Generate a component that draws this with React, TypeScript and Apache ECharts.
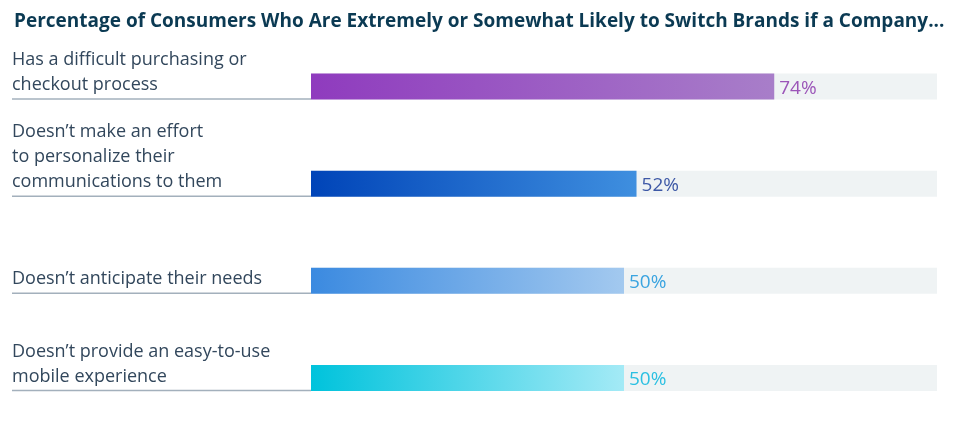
import React, { useEffect, useRef } from "react";
import * as echarts from "echarts";

const titleText = "Percentage of Consumers Who Are Extremely or Somewhat Likely to Switch Brands if a Company...";
const categories = [
  "Has a difficult purchasing or\ncheckout process",
  "Doesn’t make an effort\nto personalize their\ncommunications to them",
  "Doesn’t anticipate their needs",
  "Doesn’t provide an easy-to-use\nmobile experience",
];
const values = [74, 52, 50, 50];
const gradStart = ["#8f3bbe", "#0044b8", "#3b8ae0", "#00c3dc"];
const gradEnd = ["#a87ec9", "#3f8fdf", "#a3c9ef", "#a4eaf6"];
const labelColors = ["#9b55b8", "#3d58a6", "#3aa4e0", "#2cc0e2"];

export default function App() {
  const ref = useRef<HTMLDivElement>(null);
  useEffect(() => {
    if (!ref.current) return;
    const chart = echarts.init(ref.current, null, { renderer: "svg" });
    const barW = 26;
    chart.setOption({
      animation: false,
      title: {
        text: titleText,
        left: 9,
        top: 5,
        textStyle: { fontFamily: "Open Sans", fontWeight: "bold", fontSize: 19, color: "#0b3a53" },
      },
      grid: { left: 311, right: 32, top: 86.5, height: 291.5 },
      xAxis: { type: "value", min: 0, max: 100, show: false },
      yAxis: {
        type: "category",
        data: categories,
        inverse: true,
        boundaryGap: false,
        axisLine: { show: false },
        axisTick: { show: false },
        axisLabel: { show: false },
        splitLine: { show: false },
      },
      series: [
        {
          type: "bar",
          barWidth: barW,
          clip: false,
          showBackground: true,
          backgroundStyle: { color: "#eff3f4" },
          data: values.map((v, i) => ({
            value: v,
            itemStyle: {
              color: new echarts.graphic.LinearGradient(0, 0, 1, 0, [
                { offset: 0, color: gradStart[i] },
                { offset: 1, color: gradEnd[i] },
              ]),
            },
            label: { color: labelColors[i] },
          })),
          label: {
            show: true,
            position: "right",
            distance: 5,
            formatter: "{c}%",
            fontFamily: "Open Sans",
            fontSize: 19,
          },
        },
        {
          type: "custom",
          clip: false,
          silent: true,
          data: categories.map((c, i) => [0, i]),
          encode: { x: 0, y: 1 },
          renderItem: (params: any, api: any) => {
            const i = params.dataIndex;
            const p = api.coord([0, i]);
            const bottom = p[1] + barW / 2;
            return {
              type: "group",
              children: [
                {
                  type: "line",
                  shape: { x1: 12, y1: bottom - 0.5, x2: p[0], y2: bottom - 0.5 },
                  style: { stroke: "#a3b0bc", lineWidth: 1.5 },
                },
                {
                  type: "text",
                  style: {
                    text: categories[i],
                    x: 12,
                    y: bottom - 4,
                    verticalAlign: "bottom",
                    align: "left",
                    fontFamily: "Open Sans",
                    fontSize: 18,
                    lineHeight: 25,
                    fill: "#32475c",
                  },
                },
              ],
            };
          },
        },
      ],
    });
    return () => chart.dispose();
  }, []);
  return <div ref={ref} style={{ position: "fixed", left: 0, top: 0, width: 969, height: 421 }} />;
}
